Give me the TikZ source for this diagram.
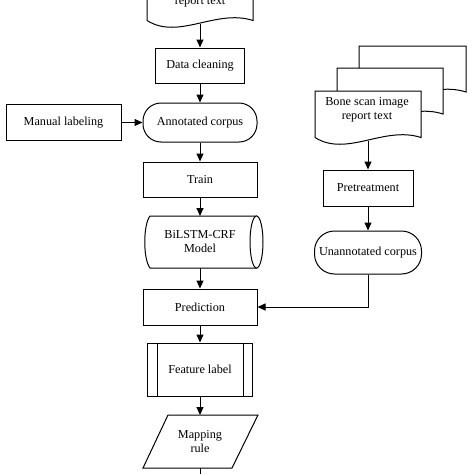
\documentclass[tikz,border=0pt]{standalone}
\usepackage{fontspec}
\setmainfont{Liberation Serif}
\usetikzlibrary{arrows.meta}
\begin{document}
\begin{tikzpicture}[x=1pt,y=-1pt,
  every node/.style={font=\fontsize{12.2}{14}\selectfont, align=center},
  box/.style={draw, line width=1pt, inner sep=0pt, fill=white},
  lbl/.style={inner sep=0pt},
  conn/.style={line width=1pt, -{Triangle[length=8pt,width=7pt]}},
  shp/.style={line width=1pt, fill=white, line join=miter}]
\useasboundingbox (0,0) rectangle (474,474);

% ---- top document (cut off) ----
\draw[shp] (147,-5) -- (147,20.5) .. controls (178.8,40.5) and (215.9,8.5) .. (253,20.5) -- (253,-5);
\node[lbl] (toptext) at (200,2) {report text};
\coordinate (topdoc) at (200,23.5);

% ---- left column ----
\node[box, minimum width=89pt, minimum height=35pt] (clean) at (200,65.5) {Data cleaning};
\node[box, rounded corners=18pt, minimum width=114pt, minimum height=39pt] (annot) at (200,122.5) {Annotated corpus};
\node[box, minimum width=115pt, minimum height=36pt] (manual) at (63.5,122.5) {Manual labeling};
\node[box, minimum width=114pt, minimum height=35pt] (train) at (200,179.5) {Train};

% cylinder (horizontal storage)
\draw[shp] (150,216) -- (256.5,216) -- (256.5,268) -- (150,268) .. controls (143,259) and (143,225) .. (150,216) -- cycle;
\draw[shp] (256.5,242) ellipse [x radius=6.5, y radius=26];
\node[lbl] (model) at (200,242) {BiLSTM-CRF\\Model};
\coordinate (modeltop) at (200,216);
\coordinate (modelbot) at (200,268);

\node[box, minimum width=114pt, minimum height=36pt] (pred) at (200,307) {Prediction};
\node[box, minimum width=105pt, minimum height=53pt] (feat) at (200,369.5) {Feature label};
\draw[line width=1pt] ([xshift=10pt]feat.north west) -- ([xshift=10pt]feat.south west);
\draw[line width=1pt] ([xshift=-10pt]feat.north east) -- ([xshift=-10pt]feat.south east);

% parallelogram
\draw[shp] (168,415) -- (258,415) -- (232,468) -- (143,468) -- cycle;
\node[lbl] (map) at (200,442) {Mapping\\rule};
\coordinate (maptop) at (200,415);
\coordinate (mapbot) at (200,468);
\coordinate (mapout) at (200,480);

% ---- right column: multi-document ----
\draw[shp] (359,92) -- (359,46) -- (466,46) -- (466,92) .. controls (428.55,80) and (391.1,112) .. (359,92) -- cycle;
\draw[shp] (337,114) -- (337,68) -- (443,68) -- (443,114) .. controls (405.9,102) and (368.8,134) .. (337,114) -- cycle;
\draw[shp] (315,137.5) -- (315,91) -- (421,91) -- (421,137.5) .. controls (383.9,125.5) and (346.8,157.5) .. (315,137.5) -- cycle;
\node[lbl] (fronttext) at (367,110) {Bone scan image\\report text};
\coordinate (frontout) at (368,140.5);

\node[box, minimum width=90pt, minimum height=36pt] (pre) at (368,188) {Pretreatment};
\node[box, rounded corners=20pt, minimum width=107pt, minimum height=43pt] (unann) at (368,252.5) {Unannotated corpus};

% ---- connectors ----
\draw[conn] (topdoc) -- (clean.north);
\draw[conn] (clean.south) -- (annot.north);
\draw[conn] (manual.east) -- (annot.west);
\draw[conn] (annot.south) -- (train.north);
\draw[conn] (train.south) -- (modeltop);
\draw[conn] (modelbot) -- (pred.north);
\draw[conn] (pred.south) -- (feat.north);
\draw[conn] (feat.south) -- (maptop);
\draw[line width=1pt] (mapbot) -- (mapout);
\draw[conn] (frontout) -- (pre.north);
\draw[conn] (pre.south) -- (unann.north);
\draw[conn] (unann.south) |- (pred.east);
\end{tikzpicture}
\end{document}
